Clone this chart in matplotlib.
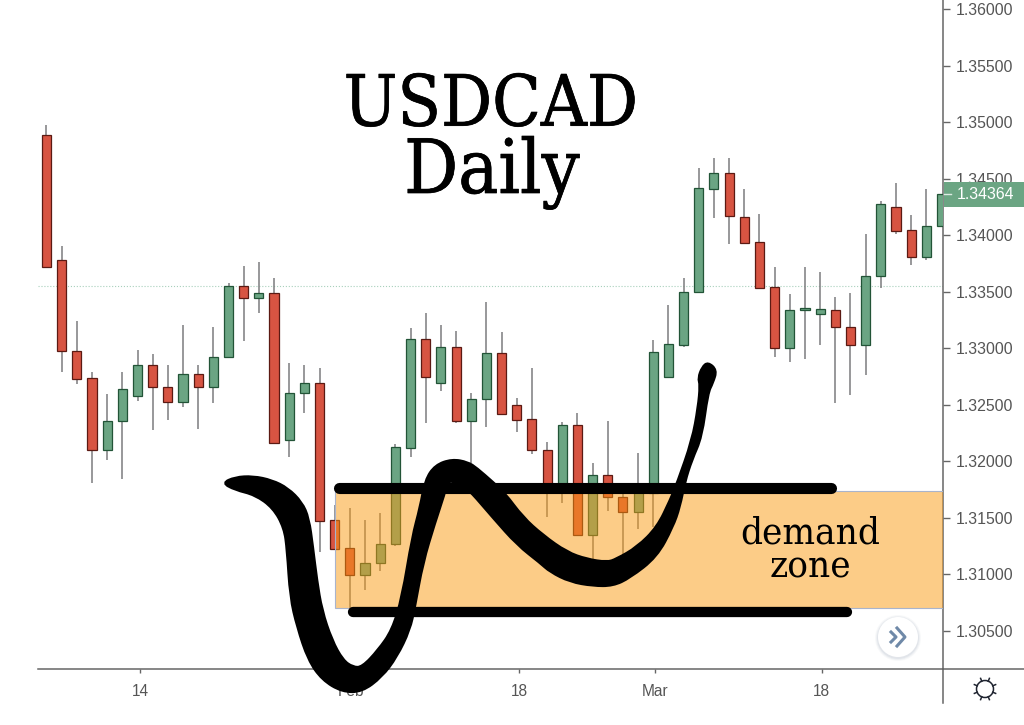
"""USDCAD daily candlesticks with a hand drawn demand zone annotation."""

import matplotlib
matplotlib.use('Agg')
import matplotlib.patheffects as pe
import matplotlib.pyplot as plt
import numpy as np
from matplotlib.patches import Circle, PathPatch, Rectangle
from matplotlib.path import Path

highs = [1.34977, 1.33904, 1.33241, 1.32788, 1.32596, 1.32788, 1.32985, 1.32947, 1.32852, 1.33206,
         1.32852, 1.33191, 1.33580, 1.33725, 1.33760, 1.33619, 1.32867, 1.32852, 1.32828, 1.31614,
         1.31585, 1.31482, 1.31544, 1.32154, 1.33177, 1.33309, 1.33206, 1.33153, 1.32607, 1.33412,
         1.33141, 1.32558, 1.32828, 1.32169, 1.32348, 1.32425, 1.31983, 1.32360, 1.31723, 1.32077,
         1.33073, 1.33385, 1.33619, 1.34592, 1.34680, 1.34680, 1.34406, 1.34187, 1.33721, 1.33477,
         1.33721, 1.33672, 1.33451, 1.33489, 1.34008, 1.34305, 1.34462, 1.34176, 1.34408, 1.34367]
lows = [1.33716, 1.32793, 1.32687, 1.31809, 1.32015, 1.31847, 1.32534, 1.32275, 1.32363, 1.32484,
        1.32286, 1.32519, 1.32926, 1.33065, 1.33309, 1.32160, 1.32042, 1.32431, 1.31202, 1.31228,
        1.30704, 1.30866, 1.31033, 1.31252, 1.32042, 1.32339, 1.32625, 1.32339, 1.31986, 1.32301,
        1.32419, 1.32263, 1.32068, 1.31511, 1.31629, 1.31347, 1.31128, 1.31564, 1.31157, 1.31405,
        1.31423, 1.32744, 1.33014, 1.33495, 1.34155, 1.33920, 1.33934, 1.33533, 1.32920, 1.32881,
        1.32908, 1.33027, 1.32519, 1.32587, 1.32767, 1.33530, 1.34011, 1.33736, 1.33778, 1.34079]
opens = [1.34886, 1.33781, 1.32979, 1.32735, 1.32098, 1.32355, 1.32576, 1.32850, 1.32655, 1.32522,
         1.32770, 1.32655, 1.32926, 1.33551, 1.33442, 1.33486, 1.32187, 1.32602, 1.32696, 1.31479,
         1.31232, 1.30995, 1.31099, 1.31267, 1.32121, 1.33085, 1.32693, 1.33009, 1.32355, 1.32549,
         1.32956, 1.32501, 1.32372, 1.32098, 1.31765, 1.32319, 1.31347, 1.31880, 1.31685, 1.31553,
         1.31723, 1.32744, 1.33027, 1.33495, 1.34411, 1.34547, 1.34158, 1.33940, 1.33539, 1.33003,
         1.33339, 1.33301, 1.33341, 1.33189, 1.33029, 1.33639, 1.34249, 1.34043, 1.33805, 1.34079]
closes = [1.33716, 1.32979, 1.32731, 1.32098, 1.32357, 1.32643, 1.32850, 1.32655, 1.32522, 1.32770,
          1.32655, 1.32926, 1.33551, 1.33442, 1.33486, 1.32160, 1.32605, 1.32696, 1.31476, 1.31228,
          1.30995, 1.31104, 1.31270, 1.32127, 1.33085, 1.32744, 1.33009, 1.32355, 1.32554, 1.32956,
          1.32419, 1.32369, 1.32098, 1.31765, 1.32319, 1.31347, 1.31880, 1.31683, 1.31553, 1.31732,
          1.32967, 1.33035, 1.33500, 1.34420, 1.34547, 1.34170, 1.33934, 1.33533, 1.33003, 1.33341,
          1.33356, 1.33345, 1.33186, 1.33029, 1.33642, 1.34276, 1.34040, 1.33805, 1.34081, 1.34367]

price_ticks = [1.305, 1.31, 1.315, 1.32, 1.325, 1.33, 1.335, 1.34, 1.345, 1.35, 1.355, 1.36]
date_ticks = [6.16, 20.1, 31.15, 40.1, 51.1]
date_labels = ['14', 'Feb', '18', 'Mar', '18']
last_price = '1.34364'
level_price = 1.33551
zone_top = 1.31738
zone_bottom = 1.30704
zone_start = 19

# Hand drawn stroke outline, in image pixels
stroke_x = [222, 235, 253, 272, 288, 302, 309, 313, 317, 322, 332, 343, 353, 362, 378, 392, 402, 412, 420,
            425, 435, 452, 468, 477, 493, 505, 523, 543, 567, 587, 607, 616, 637, 657, 670, 677, 692, 698,
            700, 698, 702, 708, 717, 713, 708, 702, 692, 685, 680, 673, 657, 630, 613, 593, 570, 550, 540,
            517, 493, 475, 470, 462, 452, 447, 445, 435, 423, 415, 410, 397, 382, 362, 342, 322, 308, 297,
            290, 287, 284, 273, 255, 235]
stroke_y = [483, 477, 476, 480, 488, 502, 518, 547, 580, 610, 640, 660, 667, 667, 650, 630, 597, 537, 507,
            480, 465, 459, 462, 468, 482, 493, 517, 535, 552, 559, 562, 559, 547, 527, 500, 483, 440, 407,
            385, 378, 367, 362, 370, 383, 393, 437, 460, 482, 507, 527, 557, 578, 586, 586, 582, 572, 563,
            545, 518, 497, 492, 485, 481, 483, 493, 523, 563, 607, 630, 657, 677, 692, 692, 680, 660, 627,
            597, 550, 528, 508, 495, 490]

GREEN = '#6BA583'
RED = '#D75442'
GREEN_EDGE = '#225437'
RED_EDGE = '#5B1A13'
WICK = '#7C7C7E'
AXIS = '#666666'
TEXT = '#555555'


def smooth_outline(xs, ys):
    """Closed path through the midpoints, with the outline points as curve controls."""
    pts = np.column_stack([xs, ys]).astype(float)
    mids = (pts + np.roll(pts, -1, axis=0)) / 2
    verts = [mids[-1]]
    codes = [Path.MOVETO]
    for ctrl, mid in zip(pts, mids):
        verts += [ctrl, mid]
        codes += [Path.CURVE3, Path.CURVE3]
    return Path(verts, codes)


plt.rcParams['font.family'] = ['Liberation Sans', 'DejaVu Sans']

fig = plt.figure(figsize=(10.24, 7.25), dpi=100)
ax = fig.add_axes([38 / 1024, 56 / 725, 905 / 1024, 669 / 725])

x = np.arange(len(opens))
ax.axhline(level_price, color='#A8D0BC', lw=0.8, ls=':', zorder=1)
ax.vlines(x, lows, highs, color=WICK, lw=1.1, zorder=2)
for i in x:
    up = closes[i] >= opens[i]
    ax.bar(i, abs(closes[i] - opens[i]), bottom=min(opens[i], closes[i]), width=0.6,
           color=GREEN if up else RED, edgecolor=GREEN_EDGE if up else RED_EDGE,
           lw=0.9, zorder=3)

ax.set_xlim(-0.56, 59.1)
ax.set_ylim(1.301643, 1.360796)

# Zone goes over the candles so they show through it
ax.add_patch(Rectangle((zone_start, zone_bottom), 59.1 - zone_start, zone_top - zone_bottom,
                       facecolor=(251 / 255, 154 / 255, 16 / 255, 0.5),
                       edgecolor='#A9B4CC', lw=0.8, zorder=5))

ax.yaxis.tick_right()
ax.set_yticks(price_ticks)
ax.set_yticklabels([f'{p:.5f}' for p in price_ticks], fontsize=11.4, color=TEXT)
ax.set_xticks(date_ticks)
ax.set_xticklabels(date_labels, fontsize=11.2, color=TEXT)
ax.tick_params(axis='y', length=5, width=1, color=AXIS, pad=4)
ax.tick_params(axis='x', length=3, width=1, color=AXIS, pad=8)
for side in ['top', 'left']:
    ax.spines[side].set_visible(False)
for side in ['right', 'bottom']:
    ax.spines[side].set_color(AXIS)
    ax.spines[side].set_linewidth(1.1)

# Overlay in image pixels for the drawn on annotations and chart furniture
over = fig.add_axes([0, 0, 1, 1])
over.set_xlim(0, 1024)
over.set_ylim(725, 0)
over.axis('off')
over.patch.set_alpha(0)

over.plot([943, 1024], [669, 669], color=AXIS, lw=1.1, zorder=1)
over.plot([943, 943], [669, 703], color=AXIS, lw=1.1, zorder=1)

over.add_patch(Rectangle((944, 182), 80, 24.5, facecolor=GREEN, edgecolor='none', zorder=2))
over.plot([944, 951], [194, 194], color='#DDEBE3', lw=1, zorder=3)
over.text(957, 194, last_price, color='white', fontsize=11.4, va='center', ha='left', zorder=3)

over.plot([339, 831], [487.5, 487.5], color='black', lw=8, solid_capstyle='round', zorder=4)
over.plot([353, 847], [612, 612], color='black', lw=7.4, solid_capstyle='round', zorder=4)
over.add_patch(PathPatch(smooth_outline(stroke_x, stroke_y), facecolor='black', edgecolor='black',
                         lw=1.6, zorder=5))

title_font = dict(family='DejaVu Serif', stretch='condensed', color='black', ha='center', va='baseline')
heavy = [pe.withStroke(linewidth=0.5, foreground='black')]
over.text(491, 125.7, 'USDCAD', fontsize=51, zorder=6, path_effects=heavy, **title_font)
over.text(492, 193, 'Daily', fontsize=54, zorder=6, path_effects=heavy, **title_font)
over.text(810, 543, 'demand', fontsize=27.5, zorder=6, **title_font)
over.text(810, 577, 'zone', fontsize=27.5, zorder=6, **title_font)

# Scroll button with a soft shadow
for r, a in zip([23, 22, 21], [0.04, 0.06, 0.08]):
    over.add_patch(Circle((898, 638), r, facecolor='#5A6E8C', alpha=a, edgecolor='none', zorder=2))
over.add_patch(Circle((898, 637), 20, facecolor='white', edgecolor='none', zorder=2))
over.plot([891, 896, 891], [632, 637, 642], color='#6F89A8', lw=2.2, zorder=3)
over.plot([897, 905, 897], [628, 637, 646], color='#6F89A8', lw=2.2, zorder=3)

# Settings sun icon
over.add_patch(Circle((985, 689), 8.5, facecolor='none', edgecolor='#1F2430', lw=1.1, zorder=3))
for a in np.arange(8) * np.pi / 4 + np.pi / 8:
    over.plot([985 + 8.5 * np.cos(a), 985 + 11.5 * np.cos(a)],
              [689 + 8.5 * np.sin(a), 689 + 11.5 * np.sin(a)], color='#1F2430', lw=1.1, zorder=3)

fig.savefig('out.png', dpi=100)
plt.close()
